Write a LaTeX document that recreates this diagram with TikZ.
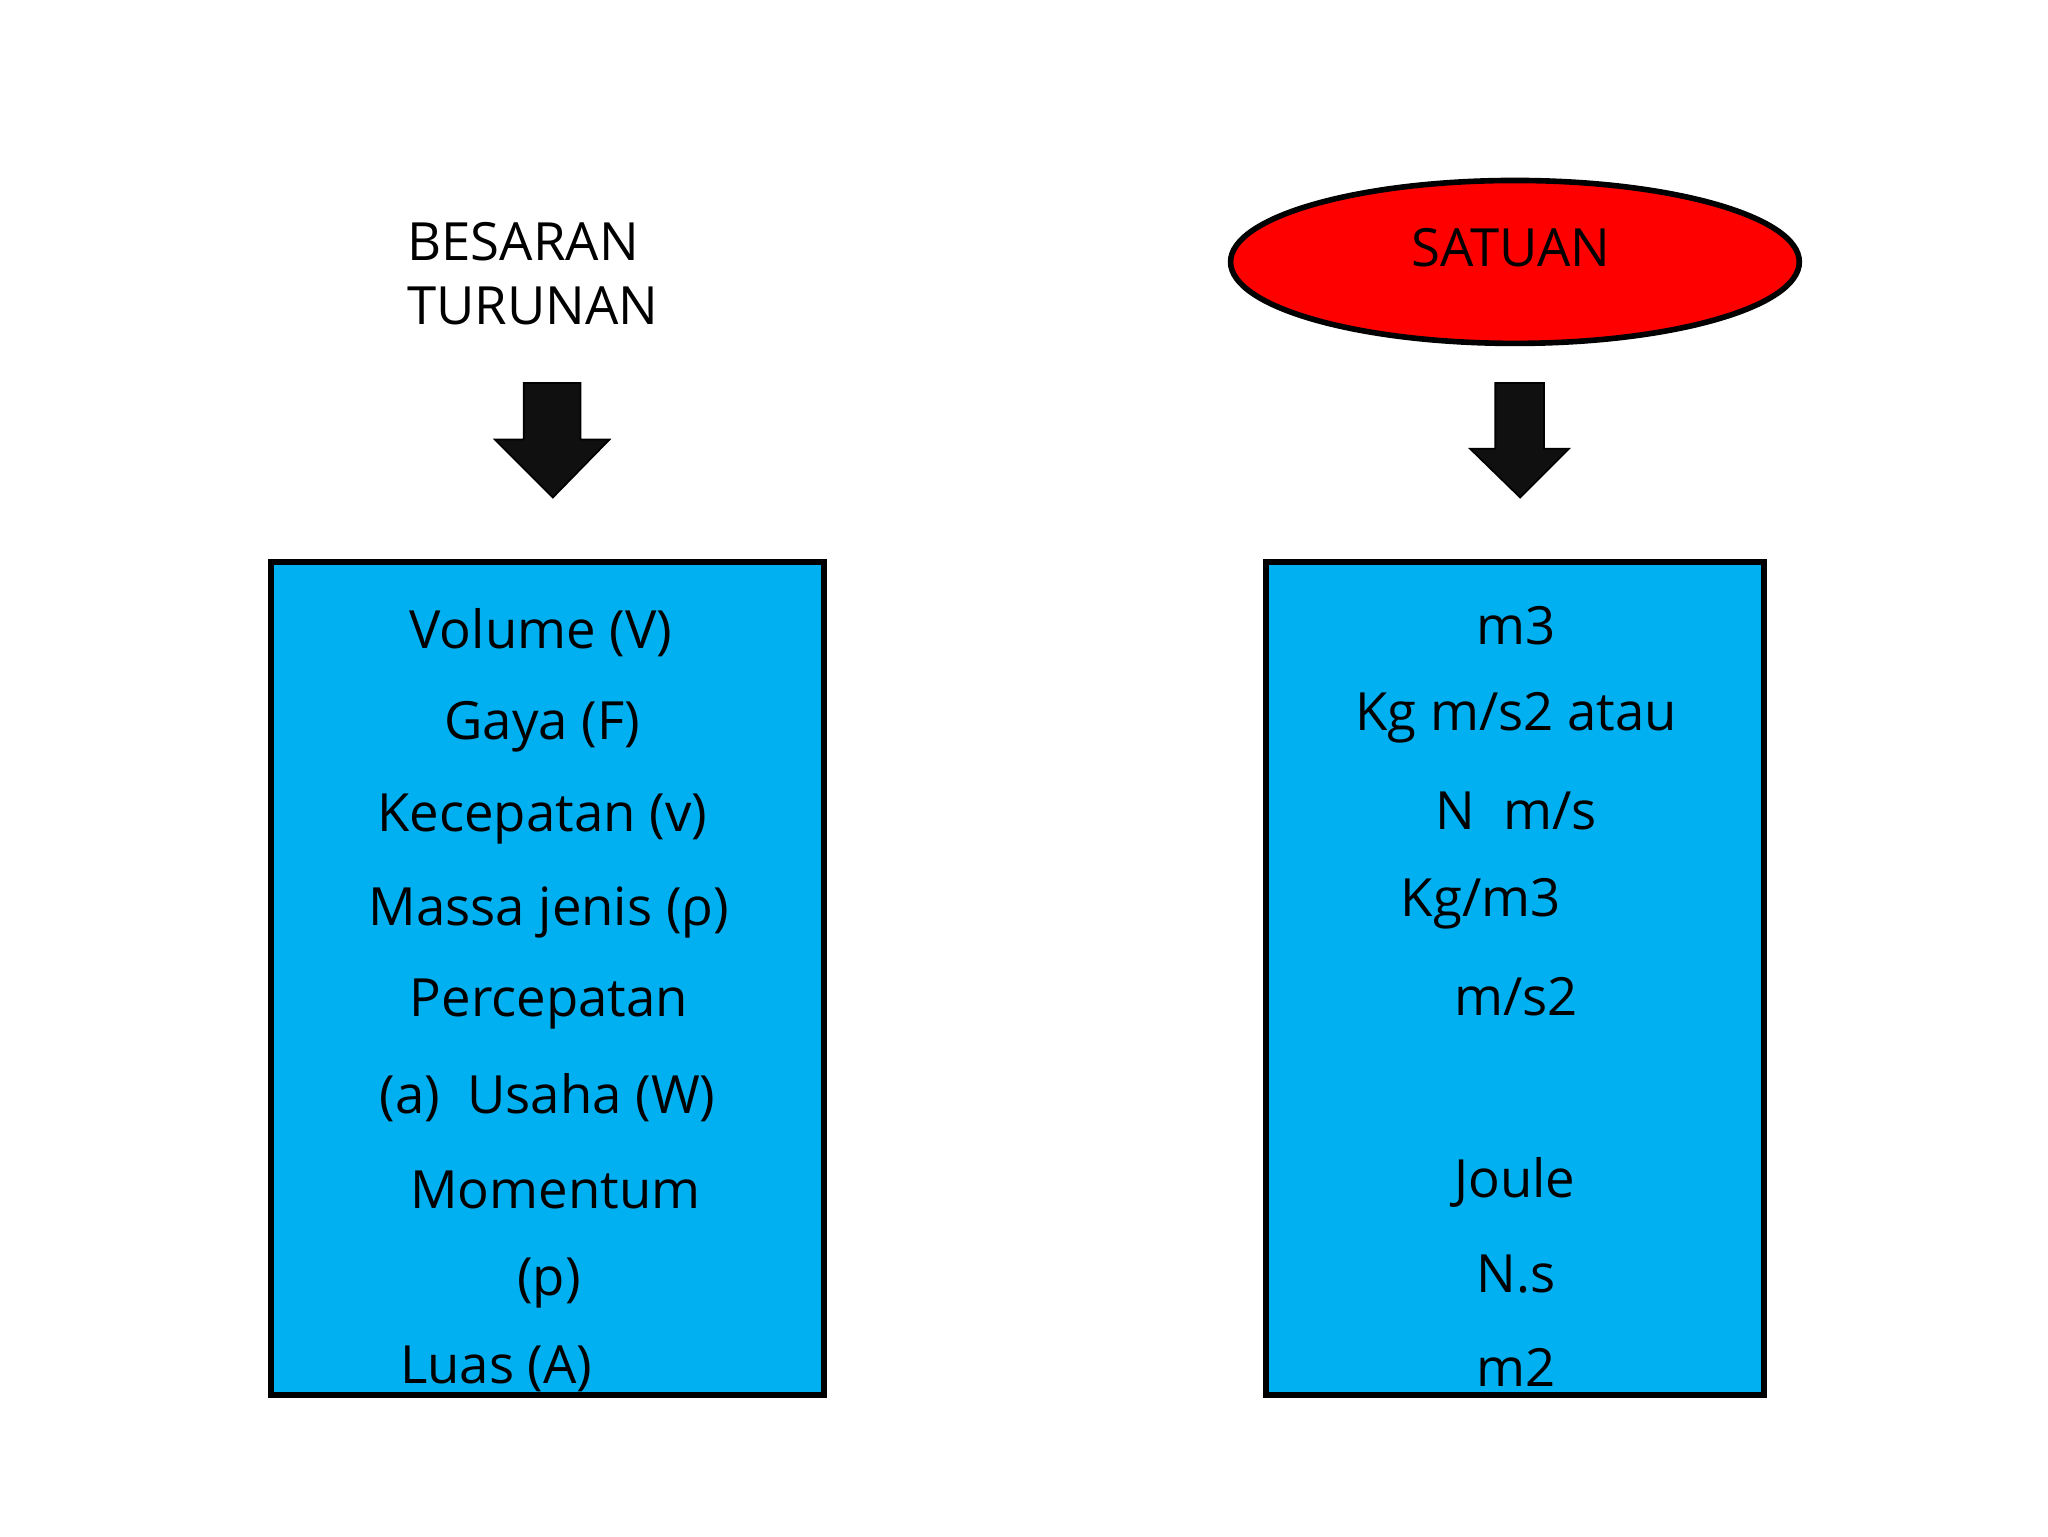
\documentclass[tikz,border=0pt]{standalone}
\usepackage{fontspec}
\setmainfont{Open Sans}
\usetikzlibrary{shapes.geometric}
\begin{document}
\begin{tikzpicture}[x=0.013162cm,y=-0.013162cm,
  box/.style={draw=black,line width=1.6pt,fill={rgb,255:red,0;green,176;blue,240}},
  txt/.style={font=\fontsize{15}{18}\selectfont,inner sep=0pt,anchor=center,text=black},
  arr/.style={fill={rgb,255:red,16;green,16;blue,16},draw=black,line width=0.5pt}]
\useasboundingbox (0,0) rectangle (1556,1167);
\draw[box] (206,427) rectangle (626,1060);
\draw[box] (962,427) rectangle (1340,1060);
\node[ellipse,draw=black,line width=1.6pt,fill=red,minimum width=5.69cm,minimum height=1.63cm,inner sep=0pt] (sat) at (1151,199) {};
\node[txt] (satt) at (1148,188) {SATUAN};
\node[txt,align=left] (bes) at (405,208) {BESARAN\\TURUNAN};
% arrows
\draw[arr] (398,291) -- (441,291) -- (441,334) -- (463,334) -- (420,378) -- (376,334) -- (398,334) -- cycle;
\draw[arr] (1136,291) -- (1173,291) -- (1173,341) -- (1192,341) -- (1155,378) -- (1117,341) -- (1136,341) -- cycle;
% left texts
\node[txt] (l1) at (411,481) {Volume (V)};
\node[txt] (l2) at (412,552) {Gaya (F)};
\node[txt] (l3) at (412,622) {Kecepatan (v)};
\node[txt] (l4) at (417,693) {Massa jenis (ρ)};
\node[txt] (l5) at (417,763) {Percepatan};
\node[txt] (l6) at (416,834) {(a)\ \ Usaha (W)};
\node[txt] (l7) at (422,904) {Momentum};
\node[txt] (l8) at (417,975) {(p)};
\node[txt] (l9) at (377,1040) {Luas (A)};
% right texts
\node[txt] (r1) at (1152,475) {m3};
\node[txt] (r2) at (1152,545) {Kg m/s2 atau};
\node[txt] (r3) at (1152,616) {N\ \ m/s};
\node[txt] (r4) at (1125,687) {Kg/m3};
\node[txt] (r5) at (1152,757) {m/s2};
\node[txt] (r6) at (1151,898) {Joule};
\node[txt] (r7) at (1152,968) {N.s};
\node[txt] (r8) at (1152,1039) {m2};
\end{tikzpicture}
\end{document}
